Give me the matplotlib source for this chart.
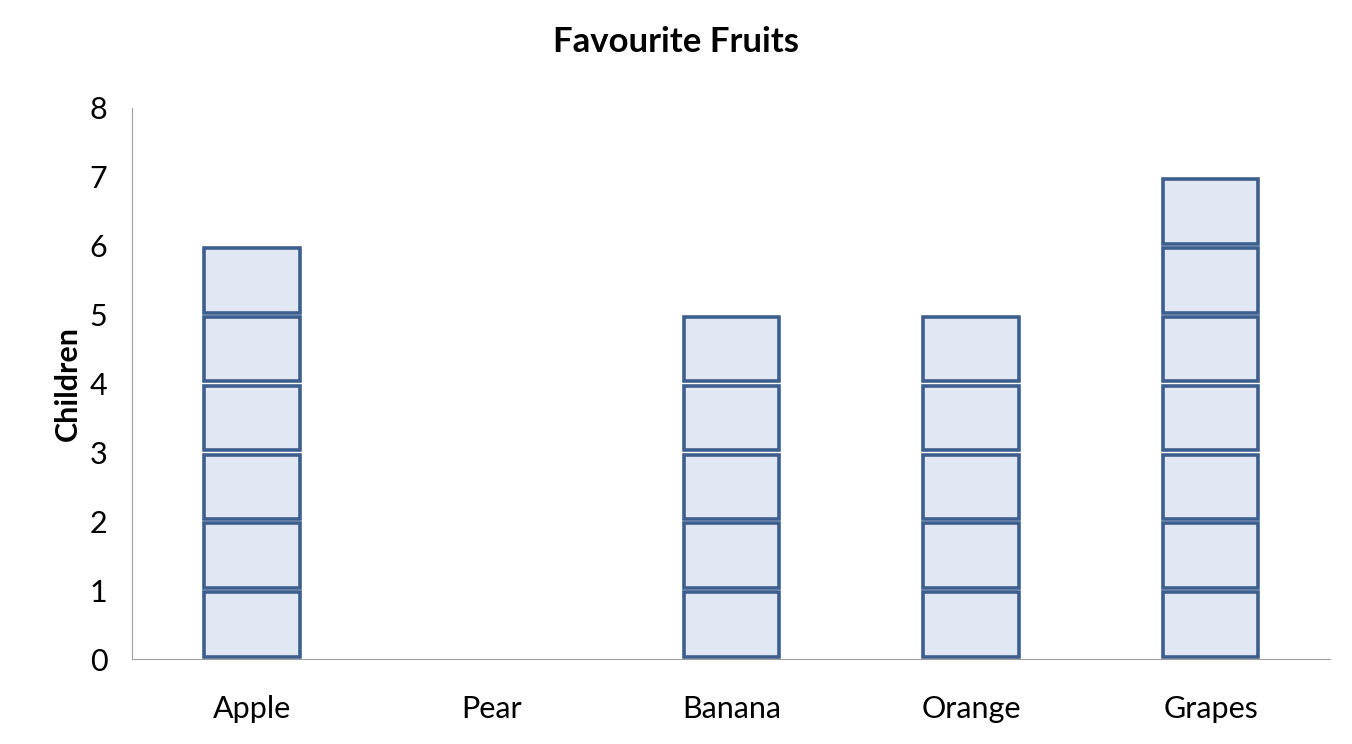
import matplotlib.pyplot as plt
from matplotlib.patches import Rectangle

fruits = ["Apple", "Pear", "Banana", "Orange", "Grapes"]
children = [6, 0, 5, 5, 7]

plt.rcParams["font.family"] = ["Lato", "DejaVu Sans"]

fig = plt.figure(figsize=(13.52, 7.44), dpi=100)
ax = fig.add_axes([0.098, 0.114, 0.886, 0.741])

box_w = 0.4
for i, n in enumerate(children):
    for k in range(n):
        ax.add_patch(Rectangle((i - box_w / 2, k + 0.03), box_w, 0.94,
                               facecolor="#E1E8F4", edgecolor="#3D5F8E",
                               linewidth=2.6))

ax.set_xlim(-0.5, len(fruits) - 0.5)
ax.set_ylim(0, 8)
ax.set_xticks(range(len(fruits)))
ax.set_xticklabels(fruits)
ax.set_yticks(range(9))
ax.tick_params(axis="both", length=0, labelsize=22)
ax.tick_params(axis="x", pad=26)
ax.tick_params(axis="y", pad=18)
for s in ["top", "right"]:
    ax.spines[s].set_visible(False)
for s in ["left", "bottom"]:
    ax.spines[s].set_color("#A0A0A0")
ax.set_ylabel("Children", fontsize=22, fontweight="bold", labelpad=6)
fig.suptitle("Favourite Fruits", fontsize=25, fontweight="bold", x=0.5, y=0.965)

plt.savefig("out.png", dpi=100)
